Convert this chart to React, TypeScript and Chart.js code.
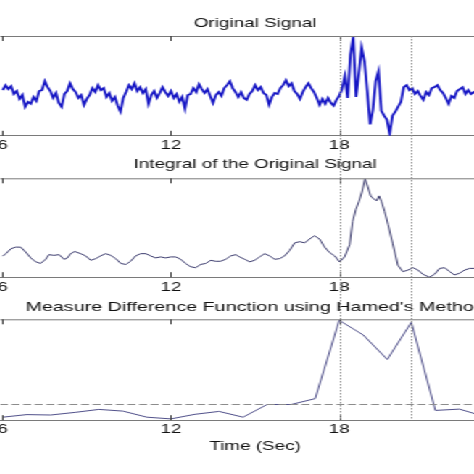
import React, { useEffect, useRef } from "react";
import { Chart, registerables } from "chart.js";

Chart.register(...registerables);

// ---------- data ----------
const xTickValues = [6, 12, 18, 24];
const xMin = 5.9;
const xMax = 24.1;
const eventTimes = [18, 20.571];

const panelTitles = [
  "Original Signal",
  "Integral of the Original Signal",
  "Measure Difference Function using Hamed's Method",
];
const xAxisLabel = "Time (Sec)";

// Original signal, sampled every 0.1 s from 6.0 s
const signalStart = 6.0;
const signalStep = 0.1;
const signalValues = [
  0.4, 0.9, 0.5, 0.8, 0, 0.3, -0.5, -0.1, -1.3, -0.8,
  -1.0, -0.3, -0.7, 0.3, 0.4, 1.3, 0.7, 0.3, -0.4, 0.1,
  -0.9, -1.3, 0, 0.3, 1.1, 0.5, 0.2, -0.4, -0.1, -1.1,
  -0.5, -0.1, 0.6, 0.2, 0.9, 0.4, 0.6, -0.3, 0.1, -0.7,
  -0.3, -1.2, -1.8, -0.4, 0.2, 0.9, 0.5, 1.1, 0.3, 0.7,
  0.1, 0.5, -1.0, -0.1, 0.3, -0.4, 0.1, 0.7, 0.2, -0.2,
  0.3, -0.4, 0, -0.8, -0.3, -1.5, -0.1, 0, 0.6, 0.2,
  1.0, 0.5, 0.1, 0.5, -0.2, -0.9, -0.1, 0.2, -0.2, 0.6,
  0.9, 1.3, 0.6, 0.2, -0.3, 0.2, -0.4, -0.6, 0, 0.3,
  0.9, 0.4, 0.7, 0.1, -0.1, -1.1, -0.3, 0.1, 0, 0.6,
  0.9, 1.4, 0.8, 1.1, 0.3, 0, -0.5, 0.2, 0.7, 1.1,
  0.6, 0.2, -0.4, -1.1, -0.5, -1.0, -0.4, -0.9, -1.2, -0.6,
  -0.2, 0.5, 1.8, -0.4, 4.0, 5.8, -0.3, 2.1, 4.7, 3.3,
  0.3, -3.1, -1.6, 1.3, 2.3, -1.7, -2.2, -2.6, -4.0, -2.2,
  -1.8, -1.3, -0.8, 0.7, 0.9, 0.4, 0.6, 0, 0.3, -0.2,
  -0.6, 0.2, -0.1, 0.6, 0.7, 0.9, 0.4, 0.1, -0.4, -1.0,
  -0.2, -0.4, 0.3, 0.5, 0.7, 0, 0.4, 0, 0.2, 0, 0.3,
];

// Integral of the signal
const integralTimes = [
  6.0, 6.11, 6.29, 6.46, 6.64, 6.82, 7.0, 7.18, 7.35, 7.53,
  7.65, 7.83, 8.01, 8.19, 8.31, 8.42, 8.57, 8.78, 8.96, 9.14,
  9.32, 9.49, 9.67, 9.85, 10.03, 10.21, 10.39, 10.56, 10.74, 10.92,
  11.1, 11.28, 11.45, 11.63, 11.81, 11.99, 12.17, 12.35, 12.52, 12.7,
  12.88, 13.06, 13.24, 13.42, 13.59, 13.77, 13.95, 14.13, 14.31, 14.45,
  14.63, 14.81, 14.98, 15.16, 15.34, 15.52, 15.7, 15.88, 16.05, 16.23,
  16.41, 16.59, 16.77, 16.94, 17.12, 17.3, 17.48, 17.66, 17.84, 18.01,
  18.19, 18.37, 18.48, 18.59, 18.7, 18.81, 18.92, 19.01, 19.12, 19.23,
  19.33, 19.42, 19.51, 19.62, 19.74, 19.91, 20.09, 20.27, 20.45, 20.63,
  20.81, 20.98, 21.22, 21.4, 21.58, 21.76, 21.94, 22.11, 22.29, 22.47,
  22.65, 22.83, 23.2,
];
const integralValues = [
  0.213, 0.238, 0.287, 0.304, 0.304, 0.254, 0.195, 0.155, 0.139, 0.181,
  0.228, 0.221, 0.228, 0.181, 0.195, 0.238, 0.26, 0.238, 0.215, 0.171,
  0.188, 0.215, 0.238, 0.221, 0.188, 0.139, 0.129, 0.161, 0.215, 0.238,
  0.238, 0.215, 0.195, 0.205, 0.195, 0.205, 0.205, 0.181, 0.139, 0.106,
  0.096, 0.129, 0.139, 0.171, 0.161, 0.161, 0.181, 0.215, 0.228, 0.205,
  0.181, 0.155, 0.171, 0.205, 0.238, 0.215, 0.181, 0.188, 0.215, 0.27,
  0.347, 0.359, 0.347, 0.386, 0.419, 0.386, 0.304, 0.248, 0.215, 0.155,
  0.205, 0.327, 0.564, 0.683, 0.762, 0.861, 0.995, 0.921, 0.822, 0.792,
  0.772, 0.822, 0.762, 0.663, 0.535, 0.337, 0.122, 0.056, 0.072, 0.096,
  0.072, 0.03, 0, 0.03, 0.089, 0.096, 0.056, 0.023, 0.04, 0.072,
  0.089, 0.089, 0.08,
];

// Measure difference function (Hamed's method)
const mdfTimes = [
  6, 6.857, 7.714, 8.571, 9.429, 10.286, 11.143, 12, 12.857, 13.714, 14.571,
  15.429, 16.286, 17.143, 18, 18.857, 19.714, 20.571, 21.429, 22.286, 23.143, 24,
];
const mdfValues = [
  0.03, 0.056, 0.052, 0.078, 0.108, 0.091, 0.03, 0.013, 0.059, 0.088, 0.03,
  0.157, 0.157, 0.216, 1.0, 0.853, 0.608, 0.98, 0.098, 0.111, 0.04, 0.05,
];
const mdfThreshold = 0.157;

// ---------- layout ----------
const STRETCH = 1.45;
const CANVAS_W = 407;
const FONT = "'Liberation Sans', Arial, Helvetica, sans-serif";

type PanelCfg = {
  height: number;
  padTop: number;
  padBottom: number;
  titlePadBottom: number;
  titleSize: number;
  tickPad: number;
  yMin: number;
  yMax: number;
  showXTitle: boolean;
  dotFromCanvasTop: boolean;
  dotToCanvasBottom: boolean;
  datasets: any[];
};

const framePlugin = (cfg: PanelCfg) => ({
  id: "frame",
  afterDraw(chart: any) {
    const { ctx, chartArea, scales } = chart;
    const xs = scales.x;
    ctx.save();
    ctx.lineWidth = 1;
    ctx.strokeStyle = "#7a7a7a";
    ctx.beginPath();
    ctx.moveTo(chartArea.left, chartArea.top + 0.5);
    ctx.lineTo(chartArea.right, chartArea.top + 0.5);
    ctx.stroke();
    ctx.strokeStyle = "#444";
    for (const t of xTickValues) {
      const px = Math.round(xs.getPixelForValue(t)) + 0.5;
      ctx.beginPath();
      ctx.moveTo(px, chartArea.bottom);
      ctx.lineTo(px, chartArea.bottom - 5);
      ctx.moveTo(px, chartArea.top);
      ctx.lineTo(px, chartArea.top + 5);
      ctx.stroke();
    }
    ctx.strokeStyle = "#8a8a8a";
    ctx.setLineDash([1.5, 1.5]);
    const y0 = cfg.dotFromCanvasTop ? 0 : chartArea.top;
    const y1 = cfg.dotToCanvasBottom ? chart.height : chartArea.bottom;
    for (const t of eventTimes) {
      const px = Math.round(xs.getPixelForValue(t)) + 0.5;
      ctx.beginPath();
      ctx.moveTo(px, y0);
      ctx.lineTo(px, y1);
      ctx.stroke();
    }
    ctx.restore();
  },
});

const signalData = signalValues.map((v, i) => ({
  x: +(signalStart + i * signalStep).toFixed(2),
  y: v,
}));
const integralData = integralTimes.map((t, i) => ({ x: t, y: integralValues[i] }));
const mdfData = mdfTimes.map((t, i) => ({ x: t, y: mdfValues[i] }));
const thresholdData = [
  { x: xMin, y: mdfThreshold },
  { x: xMax, y: mdfThreshold },
];

const panels: PanelCfg[] = [
  {
    height: 156,
    padTop: 16,
    padBottom: 1.2,
    titlePadBottom: 4.4,
    titleSize: 13,
    tickPad: 1.7,
    yMin: -4.25,
    yMax: 5.9,
    showXTitle: false,
    dotFromCanvasTop: false,
    dotToCanvasBottom: true,
    datasets: [
      { data: signalData, borderColor: "#1616c4", borderWidth: 1.8 },
    ],
  },
  {
    height: 141,
    padTop: 0.5,
    padBottom: 0,
    titlePadBottom: 6.2,
    titleSize: 13,
    tickPad: 2.1,
    yMin: 0,
    yMax: 1,
    showXTitle: false,
    dotFromCanvasTop: true,
    dotToCanvasBottom: true,
    datasets: [
      { data: integralData, borderColor: "#3c3c6e", borderWidth: 1 },
    ],
  },
  {
    height: 177,
    padTop: 2.4,
    padBottom: 20,
    titlePadBottom: 4.3,
    titleSize: 13.6,
    tickPad: 1.3,
    yMin: 0,
    yMax: 1.01,
    showXTitle: true,
    dotFromCanvasTop: true,
    dotToCanvasBottom: false,
    datasets: [
      {
        data: thresholdData,
        borderColor: "#8c8c8c",
        borderWidth: 1,
        borderDash: [5.5, 2.5],
      },
      { data: mdfData, borderColor: "#50508a", borderWidth: 1 },
    ],
  },
];

function Panel({ index }: { index: number }) {
  const ref = useRef<HTMLCanvasElement | null>(null);
  const cfg = panels[index];
  useEffect(() => {
    if (!ref.current) return;
    const chart = new Chart(ref.current, {
      type: "line",
      data: {
        datasets: cfg.datasets.map((d) => ({
          ...d,
          pointRadius: 0,
          tension: 0,
          fill: false,
        })),
      },
      options: {
        animation: false,
        responsive: false,
        events: [],
        layout: {
          padding: { left: 27.5, right: 27.5, top: cfg.padTop, bottom: cfg.padBottom },
        },
        plugins: {
          legend: { display: false },
          tooltip: { enabled: false },
          title: {
            display: true,
            text: panelTitles[index],
            color: "#111",
            font: { family: FONT, size: cfg.titleSize, weight: "normal", lineHeight: 15.6 / cfg.titleSize },
            padding: { top: 0, bottom: cfg.titlePadBottom },
          },
        },
        scales: {
          x: {
            type: "linear",
            min: xMin,
            max: xMax,
            afterBuildTicks: (axis: any) => {
              axis.ticks = xTickValues.map((v) => ({ value: v }));
            },
            grid: { display: false, drawTicks: false },
            border: { display: true, color: "#7a7a7a", width: 1 },
            ticks: {
              color: "#111",
              padding: cfg.tickPad,
              maxRotation: 0,
              autoSkip: false,
              font: { family: FONT, size: 13, lineHeight: 1.2 },
              callback: (v: any) => String(v),
            },
            title: {
              display: cfg.showXTitle,
              text: xAxisLabel,
              color: "#111",
              padding: { top: 0, bottom: 0 },
              font: { family: FONT, size: 13, lineHeight: 1.2 },
            },
          },
          y: {
            display: false,
            min: cfg.yMin,
            max: cfg.yMax,
          },
        },
      } as any,
      plugins: [framePlugin(cfg)],
    });
    return () => chart.destroy();
  }, [index]);
  return (
    <canvas
      ref={ref}
      width={CANVAS_W}
      height={cfg.height}
      style={{ display: "block", width: CANVAS_W, height: cfg.height }}
    />
  );
}

export default function App() {
  return (
    <div
      style={{
        position: "fixed",
        left: 0,
        top: 0,
        width: 474,
        height: 474,
        overflow: "hidden",
        background: "#fff",
      }}
    >
      <div
        style={{
          position: "absolute",
          left: -40,
          top: 0,
          transform: `scaleX(${STRETCH})`,
          transformOrigin: "0 0",
        }}
      >
        {panels.map((_, i) => (
          <Panel key={i} index={i} />
        ))}
      </div>
    </div>
  );
}
